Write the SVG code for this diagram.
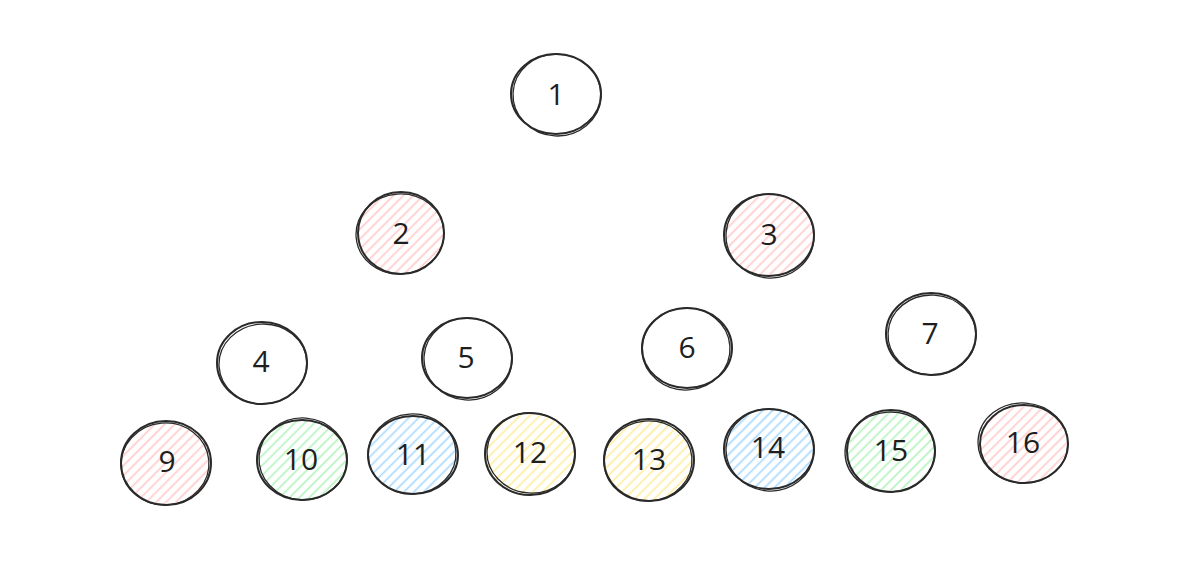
<svg xmlns="http://www.w3.org/2000/svg" width="1200" height="576" viewBox="0 0 1200 576">
<defs>
<pattern id="hp" patternUnits="userSpaceOnUse" width="7" height="7" patternTransform="rotate(-45)"><rect width="7" height="7" fill="#fff"/><line x1="0" y1="3.5" x2="7" y2="3.5" stroke="#ffc9c9" stroke-width="1.6"/></pattern>
<pattern id="hg" patternUnits="userSpaceOnUse" width="7" height="7" patternTransform="rotate(-45)"><rect width="7" height="7" fill="#fff"/><line x1="0" y1="3.5" x2="7" y2="3.5" stroke="#b2f2bb" stroke-width="1.6"/></pattern>
<pattern id="hb" patternUnits="userSpaceOnUse" width="7" height="7" patternTransform="rotate(-45)"><rect width="7" height="7" fill="#fff"/><line x1="0" y1="3.5" x2="7" y2="3.5" stroke="#a5d8ff" stroke-width="1.6"/></pattern>
<pattern id="hy" patternUnits="userSpaceOnUse" width="7" height="7" patternTransform="rotate(-45)"><rect width="7" height="7" fill="#fff"/><line x1="0" y1="3.5" x2="7" y2="3.5" stroke="#ffec99" stroke-width="1.6"/></pattern>
</defs>
<style>
.o{fill:none;stroke:#2a2a2a;stroke-width:2}
.o2{fill:none;stroke:#2a2a2a;stroke-width:1.3}
.t{font-family:"Open Sans","Liberation Sans",sans-serif;font-size:30px;fill:#1e1e1e;text-anchor:middle;dominant-baseline:central}
.p{fill:url(#hp)}.g{fill:url(#hg)}.b{fill:url(#hb)}.y{fill:url(#hy)}.w{fill:#fff}
</style>
<rect width="1200" height="576" fill="#fff"/>
<g id="connectors"/>
<g id="n1"><ellipse class="w" cx="556" cy="94" rx="45" ry="40"/><ellipse class="o" cx="556" cy="94" rx="45" ry="40"/><ellipse class="o2" cx="557" cy="95" rx="44" ry="41" transform="rotate(3 557 95)"/><text class="t" x="556" y="93">1</text></g>
<g id="n2"><ellipse class="p" cx="401" cy="233" rx="43" ry="41"/><ellipse class="o" cx="401" cy="233" rx="43" ry="41"/><ellipse class="o2" cx="400" cy="234" rx="44" ry="40" transform="rotate(-4 400 234)"/><text class="t" x="401" y="232">2</text></g>
<g id="n3"><ellipse class="p" cx="769" cy="235" rx="45" ry="41"/><ellipse class="o" cx="769" cy="235" rx="45" ry="41"/><ellipse class="o2" cx="770" cy="236" rx="44" ry="42" transform="rotate(5 770 236)"/><text class="t" x="769" y="233">3</text></g>
<g id="n4"><ellipse class="w" cx="262" cy="363" rx="45" ry="41"/><ellipse class="o" cx="262" cy="363" rx="45" ry="41"/><ellipse class="o2" cx="263" cy="364" rx="44" ry="40" transform="rotate(-3 263 364)"/><text class="t" x="261" y="360">4</text></g>
<g id="n5"><ellipse class="w" cx="467" cy="358" rx="45" ry="40"/><ellipse class="o" cx="467" cy="358" rx="45" ry="40"/><ellipse class="o2" cx="468" cy="359" rx="44" ry="41" transform="rotate(4 468 359)"/><text class="t" x="466" y="356">5</text></g>
<g id="n6"><ellipse class="w" cx="687" cy="348" rx="45" ry="40"/><ellipse class="o" cx="687" cy="348" rx="45" ry="40"/><ellipse class="o2" cx="686" cy="349" rx="44" ry="41" transform="rotate(-4 686 349)"/><text class="t" x="687" y="346">6</text></g>
<g id="n7"><ellipse class="w" cx="931" cy="334" rx="45" ry="41"/><ellipse class="o" cx="931" cy="334" rx="45" ry="41"/><ellipse class="o2" cx="932" cy="335" rx="44" ry="40" transform="rotate(3 932 335)"/><text class="t" x="930" y="332">7</text></g>
<g id="n9"><ellipse class="p" cx="166" cy="463" rx="45" ry="42"/><ellipse class="o" cx="166" cy="463" rx="45" ry="42"/><ellipse class="o2" cx="165" cy="464" rx="44" ry="41" transform="rotate(-5 165 464)"/><text class="t" x="167" y="460">9</text></g>
<g id="n10"><ellipse class="g" cx="302" cy="460" rx="45" ry="40"/><ellipse class="o" cx="302" cy="460" rx="45" ry="40"/><ellipse class="o2" cx="303" cy="459" rx="44" ry="41" transform="rotate(4 303 459)"/><text class="t" x="301" y="458">10</text></g>
<g id="n11"><ellipse class="b" cx="413" cy="455" rx="45" ry="39"/><ellipse class="o" cx="413" cy="455" rx="45" ry="39"/><ellipse class="o2" cx="412" cy="454" rx="44" ry="40" transform="rotate(-4 412 454)"/><text class="t" x="413" y="453">11</text></g>
<g id="n12"><ellipse class="y" cx="530" cy="454" rx="45" ry="41"/><ellipse class="o" cx="530" cy="454" rx="45" ry="41"/><ellipse class="o2" cx="531" cy="453" rx="44" ry="40" transform="rotate(4 531 453)"/><text class="t" x="530" y="451">12</text></g>
<g id="n13"><ellipse class="y" cx="649" cy="460" rx="45" ry="41"/><ellipse class="o" cx="649" cy="460" rx="45" ry="41"/><ellipse class="o2" cx="648" cy="461" rx="44" ry="40" transform="rotate(-5 648 461)"/><text class="t" x="649" y="458">13</text></g>
<g id="n14"><ellipse class="b" cx="769" cy="449" rx="45" ry="40"/><ellipse class="o" cx="769" cy="449" rx="45" ry="40"/><ellipse class="o2" cx="770" cy="450" rx="44" ry="41" transform="rotate(5 770 450)"/><text class="t" x="768" y="446">14</text></g>
<g id="n15"><ellipse class="g" cx="891" cy="451" rx="44" ry="41"/><ellipse class="o" cx="891" cy="451" rx="44" ry="41"/><ellipse class="o2" cx="890" cy="452" rx="45" ry="40" transform="rotate(-3 890 452)"/><text class="t" x="891" y="449">15</text></g>
<g id="n16"><ellipse class="p" cx="1024" cy="444" rx="44" ry="39"/><ellipse class="o" cx="1024" cy="444" rx="44" ry="39"/><ellipse class="o2" cx="1023" cy="443" rx="45" ry="40" transform="rotate(4 1023 443)"/><text class="t" x="1023" y="441">16</text></g>
</svg>
